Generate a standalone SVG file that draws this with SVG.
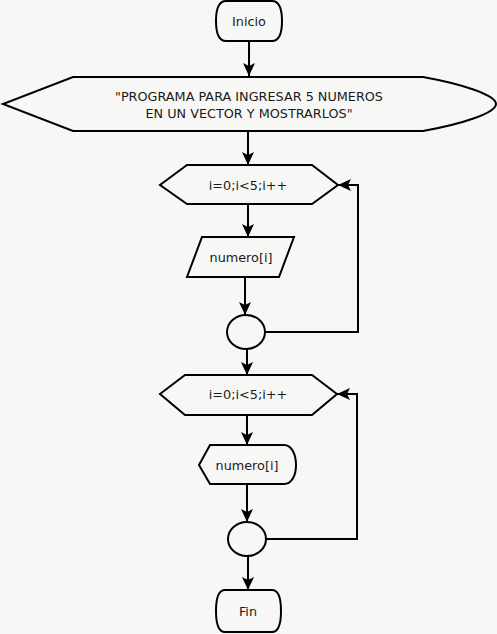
<svg xmlns="http://www.w3.org/2000/svg" width="497" height="634" viewBox="0 0 497 634">
<defs>
<style>
.shape{fill:#f7f7f5;stroke:#000;stroke-width:2}
.lbl{font-family:"DejaVu Sans",sans-serif;font-size:12.8px;fill:#1a1a1a;text-anchor:middle;dominant-baseline:central}
.conn{fill:none;stroke:#000;stroke-width:2}
</style>
<marker id="arr" markerUnits="userSpaceOnUse" markerWidth="14" markerHeight="14" viewBox="0 0 14 14" refX="13" refY="7" orient="auto">
<path d="M0,1 L13,7 L0,13 L3,7 Z" fill="#000"/>
</marker>
</defs>
<rect width="497" height="634" fill="#f7f7f5"/>
<g id="connectors">
<path class="conn" d="M249,41 V76" marker-end="url(#arr)"/>
<path class="conn" d="M248,131 V165" marker-end="url(#arr)"/>
<path class="conn" d="M248,204 V237" marker-end="url(#arr)"/>
<path class="conn" d="M245,277 V315" marker-end="url(#arr)"/>
<path class="conn" d="M247,349 V375" marker-end="url(#arr)"/>
<path class="conn" d="M265,332 H358 V185 H338" marker-end="url(#arr)"/>
<path class="conn" d="M247,415 V445" marker-end="url(#arr)"/>
<path class="conn" d="M247,484 V522" marker-end="url(#arr)"/>
<path class="conn" d="M266,539 H357 V394 H337" marker-end="url(#arr)"/>
<path class="conn" d="M248,556 V590" marker-end="url(#arr)"/>
</g>
<g id="inicio">
<path class="shape" d="M226,1 H272 C280,1 282,12 282,21 C282,30 280,41 272,41 H226 C218,41 216,30 216,21 C216,12 218,1 226,1 Z"/>
<text class="lbl" x="249" y="21">Inicio</text>
</g>
<g id="display1">
<path class="shape" d="M73,77 H423 C462,84 496,95 496,104 C496,113 462,124 423,131 H73 L3,104 Z"/>
<text class="lbl" x="249" y="96">"PROGRAMA PARA INGRESAR 5 NUMEROS</text>
<text class="lbl" x="249" y="113">EN UN VECTOR Y MOSTRARLOS"</text>
</g>
<g id="loop1">
<path class="shape" d="M187,165 H312 L338,185 L312,204 H187 L160,185 Z"/>
<text class="lbl" x="248" y="185">i=0;i&lt;5;i++</text>
</g>
<g id="input1">
<path class="shape" d="M202,237 H294 L279,277 H187 Z"/>
<text class="lbl" x="241" y="257">numero[i]</text>
</g>
<g id="connector1">
<ellipse class="shape" cx="246" cy="332" rx="19" ry="17"/>
</g>
<g id="loop2">
<path class="shape" d="M185,375 H312 L337,394 L312,415 H185 L160,394 Z"/>
<text class="lbl" x="248" y="394">i=0;i&lt;5;i++</text>
</g>
<g id="display2">
<path class="shape" d="M210,445 H284 C292,445 296,455 296,465 C296,475 292,484 284,484 H210 L199,465 Z"/>
<text class="lbl" x="247" y="465">numero[i]</text>
</g>
<g id="connector2">
<ellipse class="shape" cx="247" cy="539" rx="19" ry="17"/>
</g>
<g id="fin">
<path class="shape" d="M225,590 H272 C280,590 281,602 281,611 C281,620 280,632 272,632 H225 C217,632 216,620 216,611 C216,602 217,590 225,590 Z"/>
<text class="lbl" x="248" y="611">Fin</text>
</g>
</svg>
